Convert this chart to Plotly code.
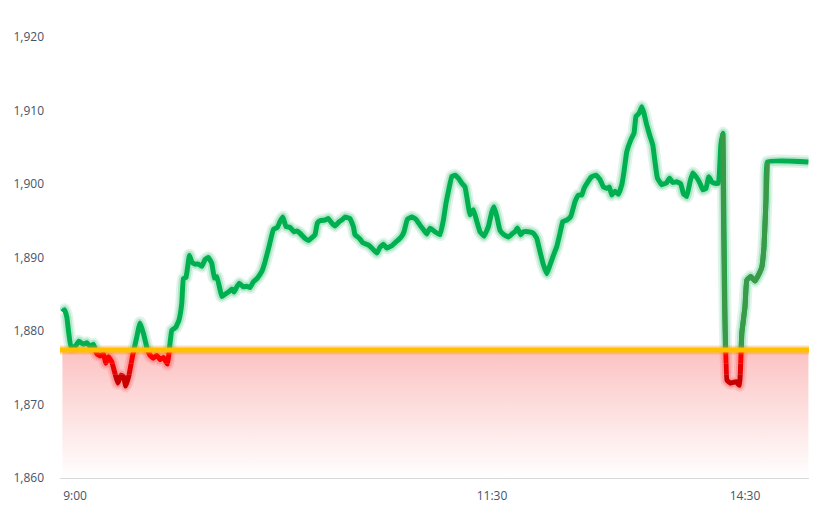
import plotly.graph_objects as go

# ---- data ----
# session position index (x) and price (y)
T = [1.2, 2.2, 3.4, 4.3, 5.5, 7.5, 9.5, 11.7, 13.4, 15.0, 16.7, 18.4, 20.0, 21.7, 22.9,
     24.2, 25.9, 27.5, 28.9, 30.5, 31.7, 32.9, 34.5, 36.2, 38.4, 40.0, 41.7, 43.4, 45.0,
     46.7, 48.4, 50.0, 51.7, 53.7, 55.0, 55.9, 57.9, 59.5, 60.9, 61.7, 63.0, 64.7, 65.9,
     67.5, 69.2, 70.9, 72.5, 74.2, 75.9, 77.2, 78.4, 79.7, 80.9, 82.5, 84.2, 85.9, 87.0,
     88.4, 89.7, 91.7, 93.4, 95.0, 96.7, 98.7, 100.9, 102.5, 104.7, 106.7, 108.7, 110.0,
     111.4, 113.0, 115.0, 117.0, 118.4, 120.0, 122.5, 124.2, 126.4, 127.5, 128.7, 130.0,
     132.5, 134.2, 135.9, 137.5, 139.7, 140.9, 142.5, 145.0, 146.7, 147.5, 149.7, 151.4,
     154.2, 155.9, 158.4, 160.0, 161.7, 163.4, 165.9, 167.5, 169.2, 170.9, 172.0, 173.7,
     175.9, 178.0, 180.0, 181.7, 183.4, 185.0, 187.5, 190.0, 191.7, 193.0, 194.2, 195.9,
     197.5, 199.2, 200.9, 202.5, 204.2, 205.0, 206.7, 208.4, 210.0, 212.0, 214.2, 215.9,
     217.0, 218.4, 220.0, 222.0, 224.2, 226.4, 227.5, 228.7, 230.4, 231.7, 234.2, 236.7,
     238.4, 240.0, 241.7, 243.4, 245.0, 246.7, 248.4, 250.0, 251.4, 253.4, 255.4, 257.5,
     259.2, 260.9, 262.0, 263.7, 265.9, 268.0, 270.0, 271.7, 273.4, 274.7, 275.9, 277.5,
     279.2, 280.9, 282.0, 283.4, 285.4, 287.0, 288.0, 289.5, 290.9, 292.0, 293.4, 295.0,
     296.4, 297.5, 298.7, 300.9, 303.4, 304.7, 306.4, 308.4, 310.4, 311.7, 313.4, 315.0,
     316.4, 318.0, 320.0, 321.4, 323.0, 324.4, 325.9, 327.5, 329.2, 330.4, 331.4, 333.5,
     335.4, 338.0, 339.7, 340.4, 340.9, 342.5, 343.4, 345.4, 347.5, 349.2, 350.9, 352.0,
     353.0, 353.7, 374.2]
PRICE = [1882.6, 1882.9, 1881.9, 1879.9, 1877.8, 1877.9, 1878.6, 1878.2, 1878.4, 1877.9,
         1878.2, 1876.9, 1876.6, 1876.9, 1875.6, 1876.5, 1875.8, 1874.2, 1872.9, 1874.0,
         1873.8, 1872.5, 1874.0, 1876.5, 1879.2, 1881.1, 1879.7, 1877.8, 1876.7, 1876.3,
         1876.7, 1876.1, 1876.4, 1875.5, 1878.3, 1880.1, 1880.5, 1881.5, 1883.8, 1887.1,
         1887.3, 1890.3, 1889.4, 1889.1, 1889.1, 1888.8, 1889.7, 1890.0, 1889.2, 1887.2,
         1887.4, 1886.0, 1884.7, 1885.0, 1885.3, 1885.7, 1885.3, 1886.0, 1886.5, 1886.0,
         1886.1, 1885.9, 1886.7, 1887.2, 1888.1, 1889.4, 1891.7, 1893.8, 1894.1, 1894.9,
         1895.5, 1894.2, 1894.1, 1893.5, 1893.6, 1893.3, 1892.6, 1892.3, 1892.8, 1893.1,
         1894.7, 1895.0, 1895.1, 1895.3, 1894.7, 1894.3, 1894.9, 1895.1, 1895.5, 1895.3,
         1894.2, 1893.1, 1892.6, 1892.0, 1891.7, 1891.3, 1890.6, 1891.4, 1891.8, 1891.3,
         1891.6, 1892.0, 1892.4, 1892.9, 1893.5, 1895.2, 1895.5, 1895.2, 1894.4, 1893.8,
         1893.2, 1894.0, 1893.5, 1893.1, 1895.1, 1897.4, 1899.0, 1901.0, 1901.2, 1900.8,
         1900.1, 1899.6, 1896.9, 1895.8, 1896.5, 1894.9, 1893.5, 1892.9, 1894.2, 1896.2,
         1896.9, 1895.6, 1893.7, 1893.1, 1892.8, 1893.3, 1893.5, 1894.0, 1893.1, 1893.5,
         1893.5, 1893.3, 1892.6, 1890.8, 1889.0, 1887.8, 1889.0, 1890.3, 1891.5, 1893.3,
         1894.9, 1895.1, 1895.6, 1897.6, 1898.5, 1898.5, 1899.4, 1900.2, 1901.0, 1901.2,
         1900.6, 1899.6, 1899.4, 1899.6, 1898.5, 1899.0, 1898.6, 1899.9, 1901.7, 1904.4,
         1906.0, 1906.9, 1909.2, 1909.6, 1910.5, 1909.6, 1908.0, 1906.5, 1905.3, 1903.0,
         1900.8, 1899.9, 1900.2, 1900.8, 1900.2, 1900.3, 1900.0, 1898.7, 1898.3, 1900.3,
         1901.5, 1901.0, 1900.1, 1899.2, 1899.4, 1901.0, 1900.3, 1900.1, 1900.1, 1905.3,
         1906.9, 1873.3, 1872.9, 1873.1, 1872.6, 1876.0, 1879.7, 1883.3, 1886.9, 1887.4,
         1886.8, 1887.6, 1888.7, 1891.5, 1897.8, 1903.0, 1903.0]

BASE = 1877.4            # previous close / reference line
Y_MIN, Y_MAX = 1860, 1920
Y_TICKS = [1860, 1870, 1880, 1890, 1900, 1910, 1920]
X_TICK_POS = [7.5, 216, 342.5]
X_TICK_TEXT = ["9:00", "11:30", "14:30"]
X_RANGE = [0, 374.5]
DARK_FROM, DARK_TO = 331.4, 353.7   # darker green section around the 14:30 dip
RED_MID, RED_LOW = 1875.6, 1874.1   # bands for the red gradient

GREEN = "#00B050"
GREEN_DARK = "#3A9A48"
REDS = ["#FF0000", "#E80000", "#C80000"]


def frac(v):
    return (v - Y_MIN) / (Y_MAX - Y_MIN)


fig = go.Figure()

# gradient fill under the reference line
fig.add_trace(go.Scatter(
    x=[T[0], T[-1], T[-1], T[0]], y=[BASE, BASE, Y_MIN, Y_MIN],
    mode="lines", line=dict(width=0), fill="toself",
    fillgradient=dict(type="vertical",
                      colorscale=[[0, "rgb(255,255,255)"], [1, "rgb(252,194,194)"]]),
    hoverinfo="skip", xaxis="x", yaxis="y"))

SPL = dict(shape="spline", smoothing=0.3)

# green part (above reference) -> y2
for w, c in [(13, "rgba(0,176,80,0.12)"), (9, "rgba(0,176,80,0.20)"), (5, GREEN)]:
    fig.add_trace(go.Scatter(x=T, y=PRICE, mode="lines", line=dict(width=w, color=c, **SPL),
                             hoverinfo="skip", xaxis="x", yaxis="y2"))
dark_t = [t for t in T if DARK_FROM <= t <= DARK_TO]
dark_p = [p for t, p in zip(T, PRICE) if DARK_FROM <= t <= DARK_TO]
fig.add_trace(go.Scatter(x=dark_t, y=dark_p, mode="lines",
                         line=dict(width=5, color=GREEN_DARK, **SPL),
                         hoverinfo="skip", xaxis="x", yaxis="y2"))

# red parts (below reference), three bands for a gradient -> y3, y4, y5
for ax, col in zip(["y3", "y4", "y5"], REDS):
    for w, c in [(13, "rgba(255,0,0,0.10)"), (9, "rgba(255,0,0,0.16)"), (5, col)]:
        fig.add_trace(go.Scatter(x=T, y=PRICE, mode="lines", line=dict(width=w, color=c, **SPL),
                                 hoverinfo="skip", xaxis="x", yaxis=ax))

tick_font = dict(family="Open Sans, Noto Sans, sans-serif", size=12, color="#44546A")
hidden = dict(visible=False, fixedrange=True)

# the page adds an 8px body margin, so the figure is sized to sit inside the window
fig.update_layout(
    width=816, height=502,
    margin=dict(l=52, r=15, t=29, b=32, autoexpand=False),
    paper_bgcolor="white", plot_bgcolor="rgba(0,0,0,0)",
    showlegend=False,
    xaxis=dict(range=X_RANGE, tickvals=X_TICK_POS, ticktext=X_TICK_TEXT,
               showgrid=False, zeroline=False, showline=True, linecolor="#D9D9D9",
               linewidth=1, ticks="", tickfont=tick_font, ticklabelstandoff=7,
               anchor="y", automargin=False),
    yaxis=dict(range=[Y_MIN, Y_MAX], domain=[0, 1], tickvals=Y_TICKS,
               tickformat=",d", showgrid=False, zeroline=False, showline=False,
               ticks="", tickfont=tick_font, ticklabelstandoff=15, automargin=False),
    yaxis2=dict(range=[BASE, Y_MAX], domain=[frac(BASE), 1], anchor="x", **hidden),
    yaxis3=dict(range=[RED_MID, BASE], domain=[frac(RED_MID), frac(BASE)], anchor="x", **hidden),
    yaxis4=dict(range=[RED_LOW, RED_MID], domain=[frac(RED_LOW), frac(RED_MID)], anchor="x", **hidden),
    yaxis5=dict(range=[Y_MIN, RED_LOW], domain=[0, frac(RED_LOW)], anchor="x", **hidden),
    shapes=[
        dict(type="line", xref="paper", x0=0, x1=1, yref="y", y0=BASE, y1=BASE,
             line=dict(color="rgba(255,140,0,0.30)", width=9), layer="above"),
        dict(type="line", xref="paper", x0=0, x1=1, yref="y", y0=BASE, y1=BASE,
             line=dict(color="#FFC000", width=5), layer="above"),
    ],
)

fig.write_html("out.html")
